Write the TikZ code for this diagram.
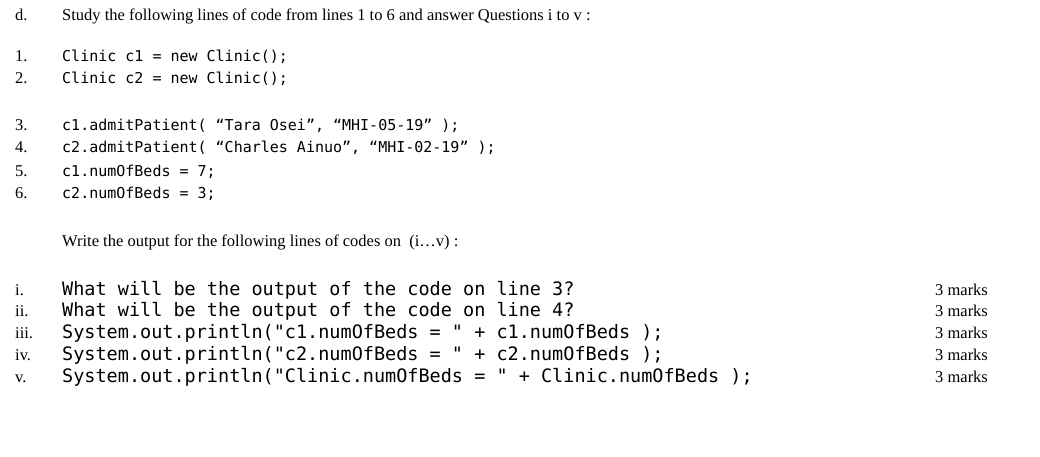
\documentclass[tikz,border=0pt]{standalone}
\usepackage{fontspec}
\setmainfont{Liberation Serif}
\newfontfamily\codef{DejaVu Sans Mono}
\begin{document}
\begin{tikzpicture}[x=1pt,y=-1pt,
  tx/.style={anchor=base west,inner sep=0,font=\fontsize{16.5}{18}\selectfont},
  cd/.style={anchor=base west,inner sep=0,font=\codef\fontsize{15}{18}\selectfont},
  qd/.style={anchor=base west,inner sep=0,font=\codef\fontsize{18.5}{18}\selectfont}]
\useasboundingbox[fill=white] (0,0) rectangle (1040,457);
\node[tx] (ld) at (15,21) {d.};
\node[tx] (td) at (62,21) {Study the following lines of code from lines 1 to 6 and answer Questions i to v :};
\foreach \n/\y/\t in {1/62/{Clinic c1 = new Clinic();},2/84/{Clinic c2 = new Clinic();},
 3/131/{c1.admitPatient( “Tara Osei”, “MHI-05-19” );},
 4/153/{c2.admitPatient( “Charles Ainuo”, “MHI-02-19” );},
 5/176/{c1.numOfBeds = 7;},6/198/{c2.numOfBeds = 3;}}{
 \node[tx] (n\n) at (15,\y) {\n.};
 \node[cd] (c\n) at (62,\y) {\t};
}
\node[tx] (w) at (62,246) {Write the output for the following lines of codes on\ \ (i\ldots v) :};
\foreach \n/\y/\t in {i/295/{What will be the output of the code on line 3?},
 ii/316/{What will be the output of the code on line 4?},
 iii/338/{System.out.println("c1.numOfBeds = " + c1.numOfBeds );},
 iv/360/{System.out.println("c2.numOfBeds = " + c2.numOfBeds );},
 v/382/{System.out.println("Clinic.numOfBeds = " + Clinic.numOfBeds );}}{
 \node[tx] (q\n) at (15,\y) {\n.};
 \node[qd] (s\n) at (62,\y) {\t};
 \node[tx] (m\n) at (935,\y) {3 marks};
}
\end{tikzpicture}
\end{document}
